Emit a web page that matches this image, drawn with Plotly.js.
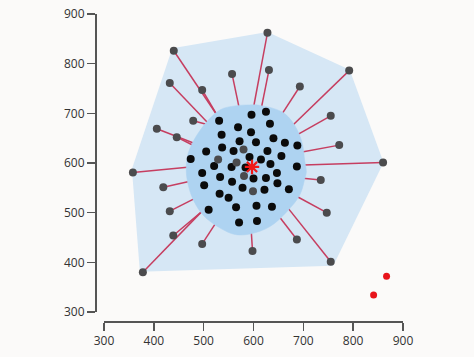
<!DOCTYPE html>
<html>
<head>
<meta charset="utf-8">
<script src="https://cdn.plot.ly/plotly-3.0.1.min.js"></script>
<style>
html,body{margin:0;padding:0;background:#fbfaf9;}
#chart{width:474px;height:357px;}
</style>
</head>
<body>
<div id="chart"></div>
<script>
// Convex hull of the outer points
const hullX = [437, 628, 793, 861, 760, 372, 356];
const hullY = [831, 864, 788, 601, 393, 381, 588];

// Inner cluster disc boundary
const discX = [593, 613, 657, 680, 697, 703, 706, 703, 693, 667, 633, 593, 563, 533, 499, 479, 469, 465, 469, 493, 533, 563];
const discY = [717, 716, 703, 680, 643, 603, 582, 569, 536, 502, 472, 457, 456, 469, 495, 526, 556, 586, 620, 666, 707, 715];

// Outer (gray) points and where their links meet the disc
const outerX = [440, 628, 432, 497, 557, 631, 479, 406, 446, 693, 792, 755, 772, 860, 735, 747, 687, 755, 419, 432, 439, 497, 598, 378, 358];
const outerY = [826, 862, 761, 747, 779, 787, 685, 669, 652, 754, 786, 695, 636, 601, 566, 500, 446, 401, 551, 503, 454, 437, 423, 380, 581];
const endX = [529, 601, 509, 529, 570, 617, 509, 475, 476, 660, 683, 693, 703, 703, 703, 692, 657, 675, 467, 477, 496, 523, 596, 492, 465];
const endY = [693, 717, 680, 693, 717, 717, 677, 642, 637, 703, 680, 660, 623, 596, 569, 530, 485, 502, 562, 526, 502, 477, 455, 498, 591];

// Inner black points
const innerX = [596, 625, 531, 633, 569, 595, 536, 640, 572, 605, 663, 537, 505, 560, 628, 688, 656, 592, 615, 474, 634, 521, 556, 584, 687, 497, 647, 533, 600, 625, 557, 648, 501, 578, 622, 671, 532, 550, 565, 606, 637, 510, 571, 607];
const innerY = [697, 703, 685, 679, 672, 662, 657, 650, 644, 642, 641, 631, 623, 624, 624, 635, 614, 612, 607, 608, 598, 594, 592, 591, 593, 580, 580, 572, 569, 570, 562, 559, 555, 550, 546, 547, 538, 530, 511, 514, 512, 506, 480, 483];

// Inner gray points
const innerGrayX = [580, 529, 566, 581, 599];
const innerGrayY = [627, 607, 601, 574, 543];

// Centre (star)
const centerX = [597];
const centerY = [592];

// Red outliers
const redX = [867, 841];
const redY = [372, 334];

// Axis ticks
const tickVals = [300, 400, 500, 600, 700, 800, 900];
const tickText = ['300', '400', '500', '600', '700', '800', '900'];

// Build link segments (extended slightly so they tuck under the disc)
const linkX = [], linkY = [];
for (let i = 0; i < outerX.length; i++) {
  const ex = endX[i] + (endX[i] - outerX[i]) * 0.12;
  const ey = endY[i] + (endY[i] - outerY[i]) * 0.12;
  linkX.push(outerX[i], ex, null);
  linkY.push(outerY[i], ey, null);
}

const traces = [
  {x: hullX, y: hullY, type: 'scatter', mode: 'lines', fill: 'toself',
   fillcolor: '#d6e7f5', line: {width: 0, color: '#d6e7f5'}, hoverinfo: 'skip'},
  {x: linkX, y: linkY, type: 'scatter', mode: 'lines',
   line: {color: '#c63e60', width: 1.5}, hoverinfo: 'skip'},
  {x: discX.concat([discX[0]]), y: discY.concat([discY[0]]), type: 'scatter', mode: 'lines', fill: 'toself',
   fillcolor: '#aed3f1', line: {width: 0.5, color: '#aed3f1', shape: 'spline', smoothing: 1}, hoverinfo: 'skip'},
  {x: outerX, y: outerY, type: 'scatter', mode: 'markers',
   marker: {color: '#4b4b4d', size: 8}, hoverinfo: 'skip'},
  {x: innerX, y: innerY, type: 'scatter', mode: 'markers',
   marker: {color: '#0b0b0b', size: 8}, hoverinfo: 'skip'},
  {x: innerGrayX, y: innerGrayY, type: 'scatter', mode: 'markers',
   marker: {color: '#4b4b4d', size: 8}, hoverinfo: 'skip'},
  {x: centerX, y: centerY, type: 'scatter', mode: 'markers',
   marker: {symbol: 'asterisk-open', size: 12, color: '#f01818', line: {color: '#f01818', width: 2.2}}, hoverinfo: 'skip'},
  {x: redX, y: redY, type: 'scatter', mode: 'markers',
   marker: {color: '#e8141b', size: 7}, hoverinfo: 'skip'}
];

const axisCommon = {
  range: [300, 900], tickvals: tickVals, ticktext: tickText,
  showgrid: false, zeroline: false, showline: true,
  linecolor: '#555', linewidth: 1.5, ticks: 'outside', ticklen: 8,
  tickwidth: 1.5, tickcolor: '#555',
  tickfont: {family: 'Open Sans, sans-serif', size: 12, color: '#333'},
  fixedrange: true, anchor: 'free', position: 0
};

const layout = {
  width: 474, height: 357,
  margin: {l: 95, r: 71, t: 14, b: 36, pad: 0},
  paper_bgcolor: '#fbfaf9', plot_bgcolor: '#fbfaf9',
  showlegend: false,
  xaxis: Object.assign({}, axisCommon, {domain: [9 / 308, 1]}),
  yaxis: Object.assign({}, axisCommon, {domain: [9 / 307, 1]})
};

Plotly.newPlot('chart', traces, layout, {staticPlot: true, displayModeBar: false});
</script>
</body>
</html>
